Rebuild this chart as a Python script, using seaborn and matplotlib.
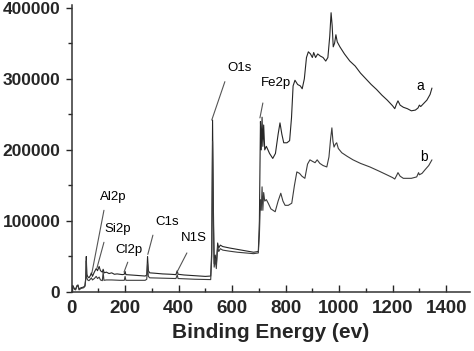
import pandas as pd
import matplotlib
matplotlib.use("Agg")
import matplotlib.pyplot as plt
import seaborn as sns
from matplotlib.ticker import MultipleLocator

# binding energy (eV) and counts
energy_a = [0, 5, 10, 15, 20, 24, 28, 35, 45, 50, 53, 55, 57, 60, 65, 70, 74, 78, 85, 92,
            97, 103, 108, 115, 118, 122, 130, 140, 150, 160, 170, 180, 190, 197, 200, 203,
            220, 240, 260, 275, 281, 284, 287, 292, 310, 340, 370, 390, 395, 398, 420, 460,
            500, 520, 524, 527, 530, 533, 537, 541, 546, 550, 556, 565, 590, 620, 650, 680,
            698, 702, 706, 709, 712, 715, 718, 722, 728, 740, 752, 762, 772, 779, 786, 793,
            805, 815, 822, 828, 835, 845, 855, 862, 870, 878, 885, 893, 900, 905, 912, 920,
            930, 940, 950, 958, 965, 970, 974, 978, 983, 988, 993, 1003, 1020, 1040, 1060,
            1080, 1100, 1120, 1140, 1160, 1180, 1200, 1208, 1215, 1220, 1228, 1240, 1255,
            1270, 1285, 1295, 1300, 1305, 1315, 1328, 1340, 1347]
counts_a = [7000, 9000, 5000, 4000, 9000, 10000, 4000, 6000, 7000, 9000, 20000, 50000, 25000,
            22000, 20000, 23000, 27000, 22000, 28000, 33000, 30000, 36000, 30000, 28000, 32000,
            27000, 28000, 26000, 27000, 25000, 25500, 25000, 24500, 25000, 29000, 24500, 24000,
            23500, 23000, 22500, 24000, 50000, 30000, 27000, 26500, 25500, 25000, 24500, 30000,
            25000, 24000, 23000, 22000, 22500, 60000, 242000, 120000, 40000, 52000, 38000,
            69000, 62000, 66000, 64000, 62000, 60000, 58000, 56000, 57000, 100000, 240000,
            200000, 246000, 205000, 235000, 200000, 205000, 195000, 188000, 195000, 222000,
            238000, 222000, 210000, 210000, 213000, 245000, 290000, 298000, 292000, 290000,
            286000, 300000, 330000, 338000, 335000, 330000, 337000, 330000, 335000, 332000,
            330000, 325000, 330000, 360000, 393000, 375000, 345000, 350000, 362000, 352000,
            345000, 335000, 325000, 318000, 308000, 300000, 292000, 285000, 277000, 270000,
            262000, 258000, 265000, 269000, 263000, 260000, 258000, 255000, 256000, 259000,
            263000, 261000, 265000, 270000, 278000, 287000]

energy_b = [0, 5, 10, 15, 20, 24, 28, 35, 45, 50, 53, 55, 57, 60, 65, 70, 74, 78, 85, 92,
            97, 103, 108, 115, 118, 121, 130, 150, 180, 197, 200, 203, 240, 275, 281, 284,
            287, 292, 340, 390, 395, 398, 460, 520, 524, 527, 530, 533, 537, 541, 546, 550,
            556, 565, 590, 620, 650, 680, 698, 702, 706, 709, 712, 715, 718, 722, 728, 735,
            745, 761, 772, 782, 790, 798, 810, 823, 833, 842, 852, 861, 872, 882, 891, 900,
            910, 918, 928, 940, 954, 962, 968, 973, 977, 981, 986, 991, 997, 1010, 1030,
            1052, 1080, 1115, 1150, 1178, 1200, 1208, 1215, 1220, 1228, 1240, 1253, 1270,
            1290, 1297, 1300, 1310, 1321, 1335, 1347]
counts_b = [6000, 8000, 4000, 3000, 8000, 9000, 3000, 5000, 6000, 8000, 18000, 44000, 20000,
            17000, 16000, 18000, 20000, 17000, 19000, 22000, 19000, 21000, 17000, 16000, 28000,
            16500, 17000, 17000, 16500, 16500, 22000, 16500, 16500, 16500, 18000, 40000, 22000,
            20000, 19500, 19000, 24000, 19000, 18000, 17500, 50000, 212000, 100000, 35000,
            47000, 33000, 64000, 57000, 61000, 59000, 57500, 56000, 55000, 54000, 55000, 80000,
            130000, 115000, 148000, 115000, 140000, 128000, 130000, 125000, 117000, 113000,
            128000, 139000, 128000, 122000, 122000, 125000, 150000, 169000, 167000, 163000,
            160000, 180000, 186000, 184000, 182000, 186000, 181000, 178000, 176000, 190000,
            215000, 231000, 212000, 204000, 208000, 210000, 202000, 196000, 191000, 186000,
            181000, 176000, 170000, 165000, 161000, 159000, 164000, 168000, 163000, 160000,
            160000, 160000, 162000, 168000, 165000, 167000, 172000, 178000, 186000]

# peak labels: text position, leader start, leader end (data coords)
peak_names = ["O1s", "Fe2p", "Al2p", "Si2p", "Cl2p", "C1s", "N1S"]
peak_text_xy = [(629, 315000), (764, 294000), (155, 134000), (173, 89000),
                (214, 59000), (357, 99000), (458, 76000)]
peak_leader_from = [(573, 296000), (715, 266000), (121, 115000), (121, 70000),
                    (210, 42000), (304, 80000), (431, 55000)]
peak_leader_to = [(524, 242000), (704, 245000), (76, 27000), (95, 34000),
                  (196, 28000), (285, 53000), (394, 28000)]
curve_names = ["a", "b"]
curve_label_xy = [(1302, 290000), (1317, 190000)]

df = pd.concat([
    pd.DataFrame({"Energy": energy_a, "Counts": counts_a, "Sample": "a"}),
    pd.DataFrame({"Energy": energy_b, "Counts": counts_b, "Sample": "b"}),
])

sns.set_style("white")
plt.rcParams["font.family"] = ["Liberation Sans", "DejaVu Sans"]

fig = plt.figure(figsize=(4.74, 3.51), dpi=100)
ax = fig.add_axes([0.151, 0.168, 0.841, 0.818])

sns.lineplot(data=df, x="Energy", y="Counts", hue="Sample",
             palette={"a": "#262626", "b": "#3c3c3c"}, linewidth=0.8,
             legend=False, ax=ax)

for name, txt, p0, p1 in zip(peak_names, peak_text_xy, peak_leader_from, peak_leader_to):
    ax.text(txt[0], txt[1], name, ha="center", va="center", fontsize=9.5, color="black")
    ax.annotate("", xy=p1, xytext=p0,
                arrowprops=dict(arrowstyle="-", color="#555555", lw=0.8,
                                shrinkA=0, shrinkB=0))

for name, xy in zip(curve_names, curve_label_xy):
    ax.text(xy[0], xy[1], name, ha="center", va="center", fontsize=10, color="black")

ax.set_xlim(0, 1490)
ax.set_ylim(0, 404000)
ax.xaxis.set_major_locator(MultipleLocator(200))
ax.xaxis.set_minor_locator(MultipleLocator(100))
ax.yaxis.set_major_locator(MultipleLocator(100000))
ax.yaxis.set_minor_locator(MultipleLocator(50000))

ax.set_xlabel("Binding Energy (ev)", fontsize=15, fontweight="bold", labelpad=4)
ax.set_ylabel("")

sns.despine(ax=ax)
for side in ["left", "bottom"]:
    ax.spines[side].set_color("#333333")
    ax.spines[side].set_linewidth(1.1)

ax.tick_params(axis="x", which="major", direction="in", length=5, width=1, labelsize=13.5, pad=6)
ax.tick_params(axis="x", which="minor", direction="in", length=3, width=1)
ax.tick_params(axis="y", which="major", direction="out", length=4, width=1, labelsize=12.5, pad=4)
ax.tick_params(axis="y", which="minor", direction="out", length=3, width=1)
ax.tick_params(bottom=True, left=True, which="both")
for lbl in ax.get_xticklabels() + ax.get_yticklabels():
    lbl.set_fontweight("bold")

fig.savefig("out.png", dpi=100)
